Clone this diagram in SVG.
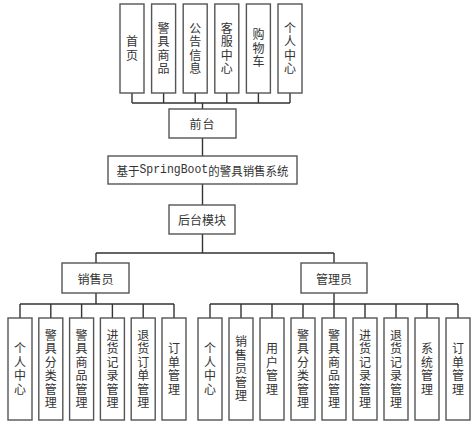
<svg xmlns="http://www.w3.org/2000/svg" width="474" height="428" viewBox="0 0 474 428">
<style>
.box{fill:#fff;stroke:#555;stroke-width:1.4}
.ln{fill:none;stroke:#333;stroke-width:1.4}
.t{font-family:"Noto Sans CJK SC","Liberation Sans",sans-serif;font-size:12px;fill:#333;text-anchor:middle;dominant-baseline:central}
.v{font-family:"Noto Sans CJK SC","Liberation Sans",sans-serif;font-size:12px;fill:#333;text-anchor:middle;dominant-baseline:central;writing-mode:vertical-rl;letter-spacing:1.5px}
.m{font-family:"Liberation Mono",monospace}
</style>
<rect width="474" height="428" fill="#fff"/>
<g id="connectors">
<path class="ln" d="M132,93V103M163.6,93V103M195.2,93V103M226.8,93V103M258.4,93V103M290,93V103M132,103H290M202.5,103V109"/>
<path class="ln" d="M202.5,138V156M202.5,184V205M202.5,234V253M96,253H334M96,253V263M334,253V263"/>
<path class="ln" d="M96,293V304M20,304H174M20,304V318M50.8,304V318M81.6,304V318M112.4,304V318M143.2,304V318M174,304V318"/>
<path class="ln" d="M334,293V304M210,304H458M210,304V318M241,304V318M272,304V318M303,304V318M334,304V318M365,304V318M396,304V318M427,304V318M458,304V318"/>
</g>
<g id="n-home"><rect class="box" x="120" y="4" width="24" height="89"/><text class="v" x="132" y="49.2">首页</text></g>
<g id="n-goods"><rect class="box" x="151.6" y="4" width="24" height="89"/><text class="v" x="163.6" y="49.2">警具商品</text></g>
<g id="n-notice"><rect class="box" x="183.2" y="4" width="24" height="89"/><text class="v" x="195.2" y="49.2">公告信息</text></g>
<g id="n-service"><rect class="box" x="214.8" y="4" width="24" height="89"/><text class="v" x="226.8" y="49.2">客服中心</text></g>
<g id="n-cart"><rect class="box" x="246.4" y="4" width="24" height="89"/><text class="v" x="258.4" y="49.2">购物车</text></g>
<g id="n-personal"><rect class="box" x="278" y="4" width="24" height="89"/><text class="v" x="290" y="49.2">个人中心</text></g>
<g id="n-front"><rect class="box" x="169" y="109" width="67" height="29"/><text class="t" x="202.5" y="123.5" letter-spacing="1">前台</text></g>
<g id="n-system"><rect class="box" x="108" y="156" width="189" height="28"/><text class="t" x="202.5" y="170" textLength="172" lengthAdjust="spacingAndGlyphs">基于<tspan class="m">SpringBoot</tspan>的警具销售系统</text></g>
<g id="n-back"><rect class="box" x="169" y="205" width="66" height="29"/><text class="t" x="202" y="219.5">后台模块</text></g>
<g id="n-seller"><rect class="box" x="62" y="263" width="67" height="30"/><text class="t" x="95.5" y="278">销售员</text></g>
<g id="n-admin"><rect class="box" x="301" y="263" width="66" height="30"/><text class="t" x="334" y="278">管理员</text></g>
<g id="s-personal"><rect class="box" x="8" y="318" width="24" height="102"/><text class="v" x="20" y="369.7">个人中心</text></g>
<g id="s-cat"><rect class="box" x="38.8" y="318" width="24" height="102"/><text class="v" x="50.8" y="369.7">警具分类管理</text></g>
<g id="s-goods"><rect class="box" x="69.6" y="318" width="24" height="102"/><text class="v" x="81.6" y="369.7">警具商品管理</text></g>
<g id="s-in"><rect class="box" x="100.4" y="318" width="24" height="102"/><text class="v" x="112.4" y="369.7">进货记录管理</text></g>
<g id="s-ret"><rect class="box" x="131.2" y="318" width="24" height="102"/><text class="v" x="143.2" y="369.7">退货订单管理</text></g>
<g id="s-order"><rect class="box" x="162" y="318" width="24" height="102"/><text class="v" x="174" y="369.7">订单管理</text></g>
<g id="a-personal"><rect class="box" x="198" y="318" width="24" height="102"/><text class="v" x="210" y="369.7">个人中心</text></g>
<g id="a-seller"><rect class="box" x="229" y="318" width="24" height="102"/><text class="v" x="241" y="369.7">销售员管理</text></g>
<g id="a-user"><rect class="box" x="260" y="318" width="24" height="102"/><text class="v" x="272" y="369.7">用户管理</text></g>
<g id="a-cat"><rect class="box" x="291" y="318" width="24" height="102"/><text class="v" x="303" y="369.7">警具分类管理</text></g>
<g id="a-goods"><rect class="box" x="322" y="318" width="24" height="102"/><text class="v" x="334" y="369.7">警具商品管理</text></g>
<g id="a-in"><rect class="box" x="353" y="318" width="24" height="102"/><text class="v" x="365" y="369.7">进货记录管理</text></g>
<g id="a-ret"><rect class="box" x="384" y="318" width="24" height="102"/><text class="v" x="396" y="369.7">退货记录管理</text></g>
<g id="a-sys"><rect class="box" x="415" y="318" width="24" height="102"/><text class="v" x="427" y="369.7">系统管理</text></g>
<g id="a-order"><rect class="box" x="446" y="318" width="24" height="102"/><text class="v" x="458" y="369.7">订单管理</text></g>
</svg>
